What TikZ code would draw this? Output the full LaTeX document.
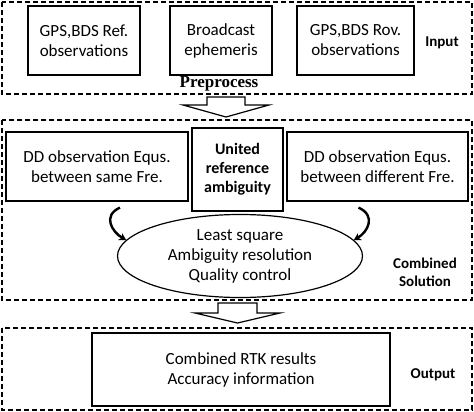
\documentclass[tikz,border=0pt]{standalone}
\usepackage{fontspec}
\setmainfont{Carlito}
\newfontfamily\prefont{Liberation Serif}
\usetikzlibrary{arrows.meta, positioning, calc, shapes}

\tikzset{
  box/.style={draw, line width=1.2pt, align=center, inner sep=0pt, font=\fontsize{17}{20}\selectfont},
  group/.style={draw, line width=1.2pt, dash pattern=on 5pt off 3pt},
  tag/.style={align=center, font=\fontsize{15}{18}\selectfont\bfseries},
  curvearrow/.style={line width=2.4pt, -{Stealth[length=7pt,width=8pt]}},
  fat/.style={draw, line width=1.2pt, fill=white, line join=miter}
}

\begin{document}
\begin{tikzpicture}[x=1pt, y=-1pt]
  \useasboundingbox (0,0) rectangle (474,412);
  % input
  \draw[group] (2,2) rectangle (472,94);
  \node[box, minimum width=112pt, minimum height=69pt] (ref) at (84,40.5) {GPS,BDS Ref.\\observations};
  \node[box, minimum width=102pt, minimum height=69pt] (eph) at (221,40.5) {Broadcast\\ephemeris};
  \node[box, minimum width=117pt, minimum height=69pt] (rov) at (355.5,40.5) {GPS,BDS Rov.\\observations};
  \node[tag] (inp) at (442,43) {Input};
  \node[font=\fontsize{17}{20}\selectfont\prefont\bfseries] (pre) at (219,84) {Preprocess};
  \coordinate (a1) at (226,97);
  \draw[fat] (a1) ++(-19,0) -- ++(0,8) -- ++(-24,0) -- ++(43,12) -- ++(43,-12) -- ++(-24,0) -- ++(0,-8) -- cycle;
  % combined solution
  \draw[group] (2,120) rectangle (472,300);
  \node[box, minimum width=182pt, minimum height=69pt] (same) at (97,166.5) {DD observation Equs.\\between same Fre.};
  \node[box, minimum width=91pt, minimum height=83pt, font=\fontsize{16}{19}\selectfont\bfseries] (unite) at (237.5,169.5) {United\\reference\\ambiguity};
  \node[box, minimum width=181pt, minimum height=69pt] (diff) at (377.5,166.5) {DD observation Equs.\\between different Fre.};
  \node[box, ellipse, minimum width=245pt, minimum height=83pt] (ls) at (240,256) {Least square\\Ambiguity resolution\\Quality control};
  \node[tag] (comb) at (425,272) {Combined\\Solution};
  \draw[curvearrow] ([xshift=23pt,yshift=-6pt]same.south) .. controls +(-18,8) and +(-14,-8) .. (ls.172);
  \draw[curvearrow] ([xshift=-19pt,yshift=-6pt]diff.south) .. controls +(18,8) and +(14,-8) .. (ls.8);
  \coordinate (a2) at (237.5,303);
  \draw[fat] (a2) ++(-19.5,0) -- ++(0,10) -- ++(-23,0) -- ++(42.5,10) -- ++(42.5,-10) -- ++(-23,0) -- ++(0,-10) -- cycle;
  % output
  \draw[group] (2,328) rectangle (472,410);
  \node[box, minimum width=298pt, minimum height=73pt] (res) at (241,369.5) {Combined RTK results\\Accuracy information};
  \node[tag] (outp) at (433,375) {Output};
\end{tikzpicture}
\end{document}
